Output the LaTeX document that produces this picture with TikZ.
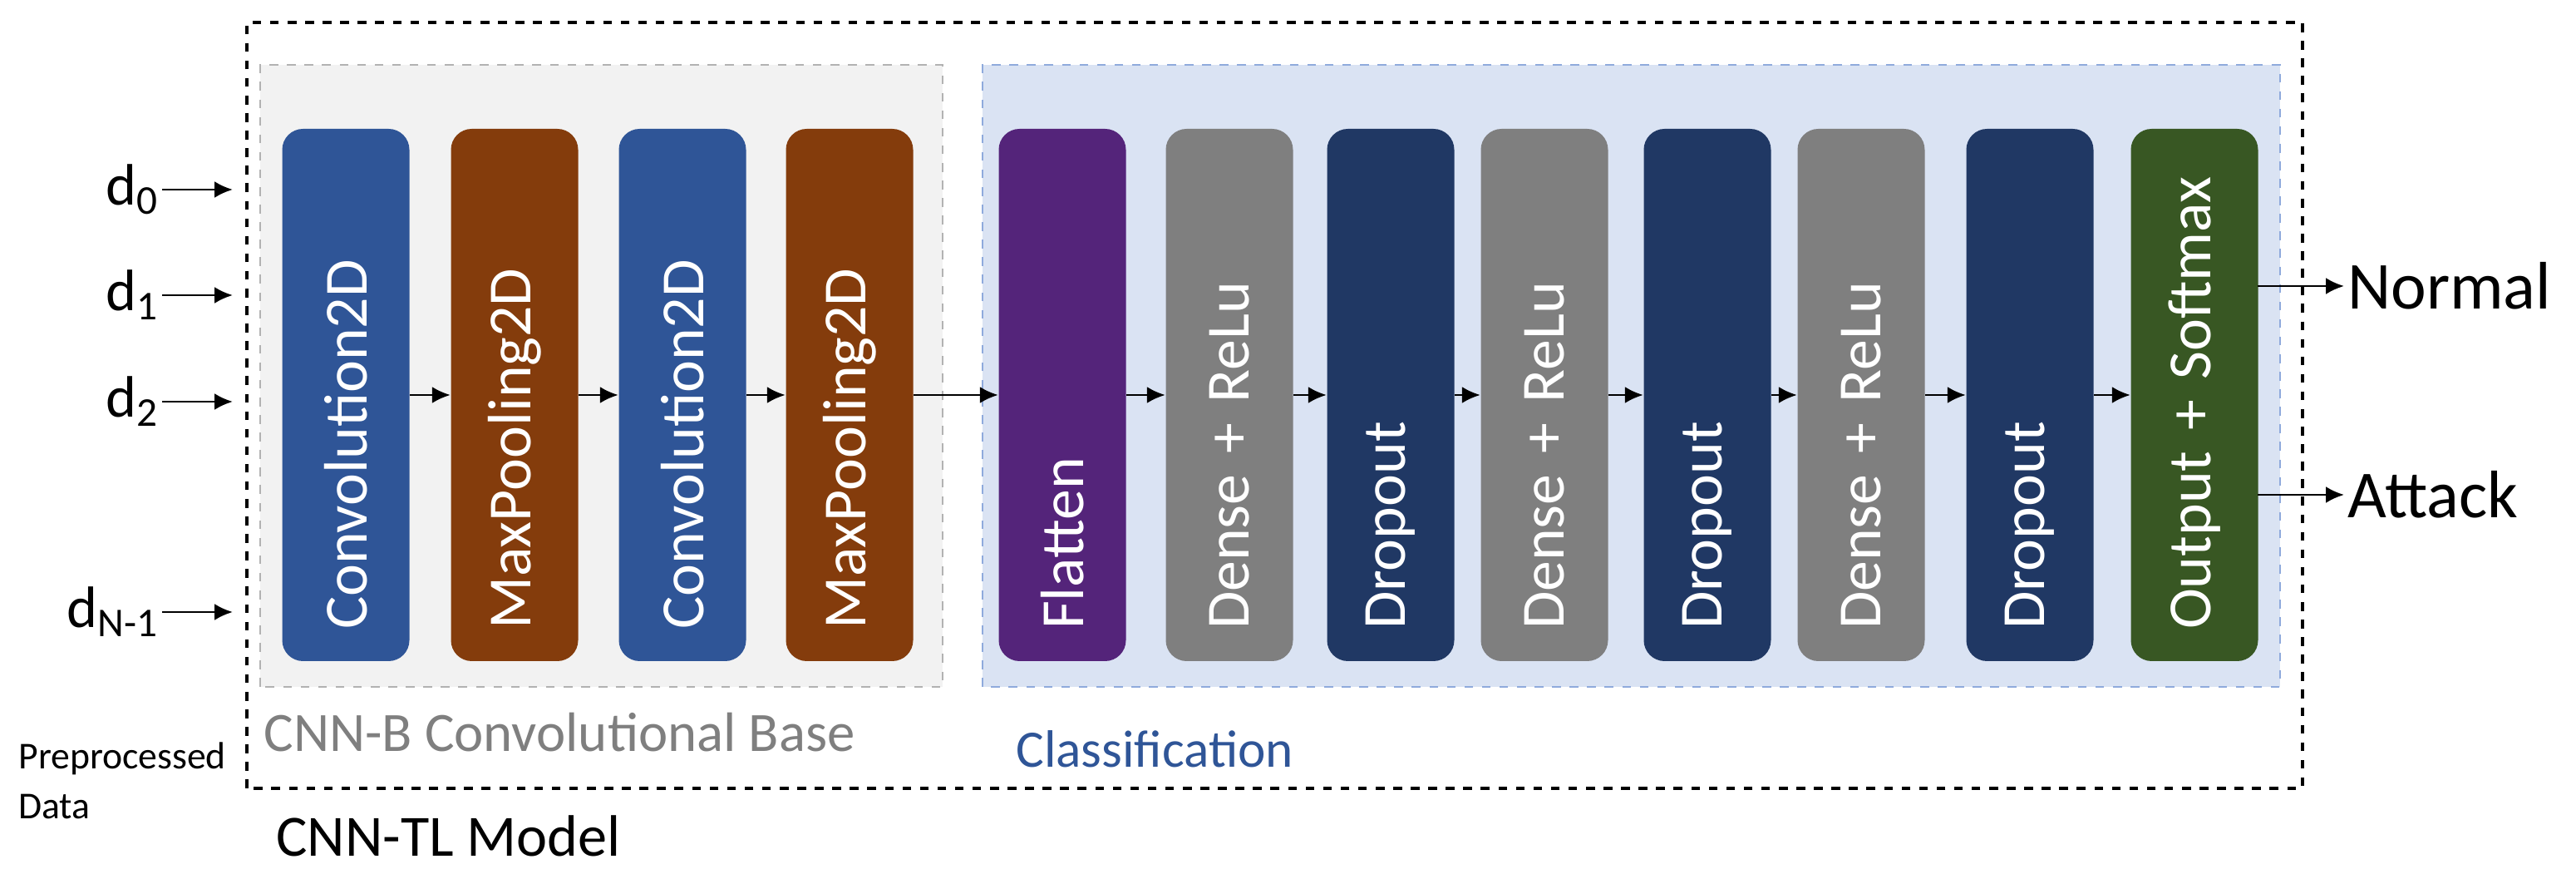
\documentclass[tikz,border=0pt]{standalone}
\usepackage{fontspec}
\setmainfont{Carlito}
\usetikzlibrary{arrows.meta}

\definecolor{convblue}{HTML}{2F5597}
\definecolor{poolbrown}{HTML}{843C0C}
\definecolor{flatpurple}{HTML}{54247A}
\definecolor{densegray}{HTML}{7F7F7F}
\definecolor{dropnavy}{HTML}{203864}
\definecolor{outgreen}{HTML}{385723}
\definecolor{basefill}{HTML}{F2F2F2}
\definecolor{clsfill}{HTML}{DAE3F3}
\definecolor{clsline}{HTML}{8FAADC}

\tikzset{
  layer/.style={rounded corners=0.25cm, rotate=90, text=white,
    minimum width=6.4cm, minimum height=1.53cm, text width=5.64cm,
    inner xsep=0.38cm, align=left, font=\fontsize{21}{24}\selectfont},
  arr/.style={-{Latex[length=0.22cm,width=0.2cm]}, line width=0.8pt},
  lbl/.style={font=\fontsize{20}{24}\selectfont, inner sep=1pt}
}

\begin{document}
\begin{tikzpicture}
\useasboundingbox (0,0) rectangle (30.99,10.51);

% Frames
\draw[dashed, line width=1pt] (2.97,1.03) rectangle (27.70,10.24);
\draw[dashed, gray!60, fill=basefill] (3.13,2.25) rectangle (11.34,9.73);
\draw[dashed, clsline, fill=clsfill] (11.82,2.25) rectangle (27.43,9.73);

% Convolutional base
\node[layer, fill=convblue]   (c1) at (4.16,5.76)  {Convolution2D};
\node[layer, fill=poolbrown]  (m1) at (6.19,5.76)  {MaxPooling2D};
\node[layer, fill=convblue]   (c2) at (8.21,5.76)  {Convolution2D};
\node[layer, fill=poolbrown]  (m2) at (10.22,5.76) {MaxPooling2D};

% Classification
\node[layer, fill=flatpurple] (fl) at (12.78,5.76) {Flatten};
\node[layer, fill=densegray]  (h1) at (14.79,5.76) {Dense + ReLu};
\node[layer, fill=dropnavy]   (p1) at (16.73,5.76) {Dropout};
\node[layer, fill=densegray]  (h2) at (18.58,5.76) {Dense + ReLu};
\node[layer, fill=dropnavy]   (p2) at (20.54,5.76) {Dropout};
\node[layer, fill=densegray]  (h3) at (22.39,5.76) {Dense + ReLu};
\node[layer, fill=dropnavy]   (p3) at (24.42,5.76) {Dropout};
\node[layer, fill=outgreen]   (out) at (26.40,5.76) {Output + Softmax};

\foreach \a/\b in {c1/m1, m1/c2, c2/m2, m2/fl, fl/h1, h1/p1, p1/h2, h2/p2, p2/h3, h3/p3, p3/out}
  \draw[arr] (\a) -- (\b);

% Inputs
\foreach \n/\t/\y in {0/0/8.23, 1/1/6.96, 2/2/5.68, 3/N-1/3.15}{
  \node[lbl, anchor=east] (d\n) at (1.95,\y) {d\textsubscript{\t}};
  \coordinate (e\n) at (2.80,\y);
  \draw[arr] (d\n) -- (e\n);
}

% Outputs
\coordinate (o1) at (27.16,7.07);
\coordinate (o2) at (27.16,4.56);
\node[anchor=west, inner sep=1pt, font=\fontsize{23}{26}\selectfont] (normal) at (28.20,7.07) {Normal};
\node[anchor=west, inner sep=1pt, font=\fontsize{23}{26}\selectfont] (attack) at (28.20,4.56) {Attack};
\draw[arr] (o1) -- (normal);
\draw[arr] (o2) -- (attack);

% Labels
\node[anchor=west, text=densegray, font=\fontsize{19}{22}\selectfont] (baselbl) at (3.05,1.70) {CNN-B Convolutional Base};
\node[anchor=west, text=convblue, font=\fontsize{18}{22}\selectfont] (clslbl) at (12.10,1.50) {Classification};
\node[anchor=west, align=left, font=\fontsize{13}{17}\selectfont] (prelbl) at (0.10,1.12) {Preprocessed\\Data};
\node[anchor=west, font=\fontsize{20}{24}\selectfont] (modellbl) at (3.20,0.46) {CNN-TL Model};

\end{tikzpicture}
\end{document}
